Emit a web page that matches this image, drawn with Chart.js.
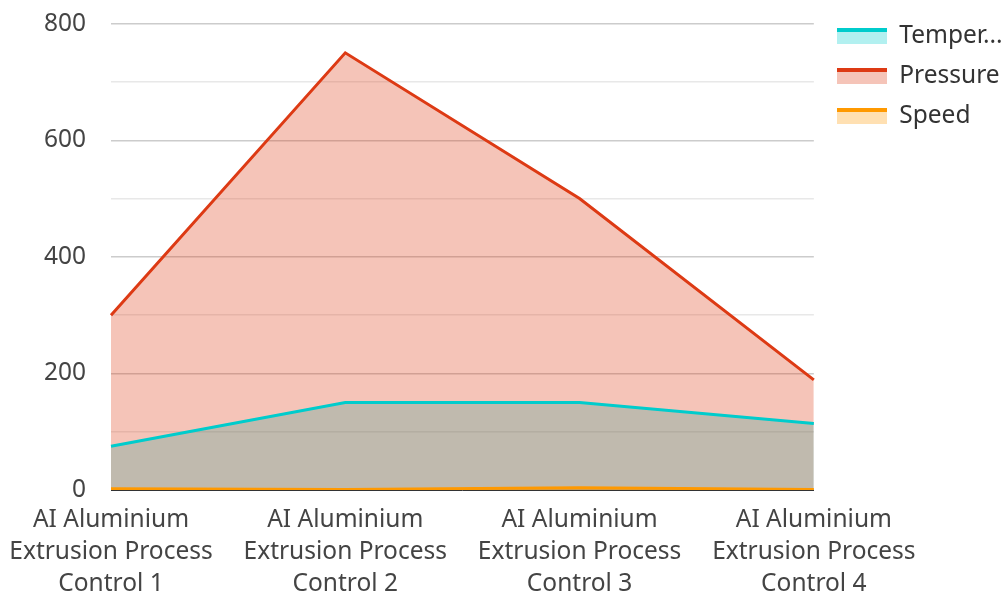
<!DOCTYPE html>
<html>
<head>
<meta charset="utf-8">
<script src="https://cdn.jsdelivr.net/npm/chart.js@4/dist/chart.umd.min.js"></script>
<style>
    html, body { margin: 0; padding: 0; background: #fff; }
    #wrap { width: 1003px; height: 594px; }
</style>
</head>
<body>
<div id="wrap"><canvas id="processChart"></canvas></div>
<script>
const categories = [
    ['AI Aluminium', 'Extrusion Process', 'Control 1'],
    ['AI Aluminium', 'Extrusion Process', 'Control 2'],
    ['AI Aluminium', 'Extrusion Process', 'Control 3'],
    ['AI Aluminium', 'Extrusion Process', 'Control 4']
];
const temperature = [75, 150, 150, 114];
const pressure = [300, 750, 500, 189];
const speed = [2, 1, 4, 1];
const yTicks = [0, 200, 400, 600, 800];

const FONT = '"Noto Sans", "Open Sans", sans-serif';
const LEGEND_PAD = 15.5;

// legend swatch: solid line on top, light fill below
function swatch(line, fill) {
    const c = document.createElement('canvas');
    c.width = 50;
    c.height = 16;
    const g = c.getContext('2d');
    g.fillStyle = fill;
    g.fillRect(0, 4, 50, 12);
    g.fillStyle = line;
    g.fillRect(0, 0, 50, 4);
    return c;
}

const series = [
    { label: 'Temperature', data: temperature, line: '#00cccc', fill: 'rgba(0, 204, 204, 0.3)', order: 2 },
    { label: 'Pressure', data: pressure, line: '#dd3a14', fill: 'rgba(221, 58, 20, 0.3)', order: 1 },
    { label: 'Speed', data: speed, line: '#ff9900', fill: 'rgba(255, 153, 0, 0.3)', order: 0 }
];

// push the legend a bit away from the plot, like the original
const legendNudge = {
    id: 'legendNudge',
    afterLayout(chart) {
        const lg = chart.legend;
        const dx = 837 - LEGEND_PAD - lg.left;
        lg.left += dx;
        lg.right += dx;
        const dy = 36 - LEGEND_PAD - 12.25 - lg.top;
        lg.top += dy;
        lg.bottom += dy;
    }
};

const ctx = document.getElementById('processChart').getContext('2d');

new Chart(ctx, {
    type: 'line',
    data: {
        labels: categories,
        datasets: series.map(s => ({
            label: s.label,
            data: s.data,
            borderColor: s.line,
            backgroundColor: s.fill,
            borderWidth: 3,
            fill: 'origin',
            tension: 0,
            pointRadius: 0,
            order: s.order,
            pointStyle: swatch(s.line, s.fill)
        }))
    },
    plugins: [legendNudge],
    options: {
        responsive: true,
        maintainAspectRatio: false,
        animation: false,
        layout: { padding: { top: 0, right: -2, left: 0, bottom: -12 } },
        plugins: {
            filler: { drawTime: 'beforeDatasetsDraw' },
            tooltip: { enabled: false },
            legend: {
                position: 'right',
                align: 'start',
                labels: {
                    usePointStyle: true,
                    pointStyleWidth: 50,
                    padding: LEGEND_PAD,
                    color: '#333',
                    font: { family: FONT, size: 24.5 },
                    sort: (a, b) => a.datasetIndex - b.datasetIndex,
                    generateLabels: chart => {
                        const items = Chart.defaults.plugins.legend.labels.generateLabels(chart);
                        items.forEach(it => {
                            if (it.text.length > 9) it.text = it.text.slice(0, 6) + '...';
                        });
                        return items;
                    }
                }
            }
        },
        scales: {
            x: {
                offset: false,
                grid: { display: false },
                border: { display: true, color: '#333', width: 1 },
                ticks: {
                    color: '#444',
                    padding: 6,
                    maxRotation: 0,
                    autoSkip: false,
                    font: { family: FONT, size: 24.5, lineHeight: 1.306 }
                }
            },
            y: {
                min: 0,
                max: 800,
                border: { display: false },
                afterFit: scale => { scale.width = 111; },
                grid: {
                    drawTicks: true,
                    tickLength: 16,
                    tickColor: 'rgba(0,0,0,0)',
                    color: c => (yTicks.includes(c.tick.value) ? '#cccccc' : '#e8e8e8'),
                    lineWidth: 1.5
                },
                ticks: {
                    stepSize: 100,
                    padding: 9,
                    color: '#444',
                    font: { family: FONT, size: 24.5 },
                    callback: v => (yTicks.includes(v) ? v : '')
                }
            }
        }
    }
});
</script>
</body>
</html>
